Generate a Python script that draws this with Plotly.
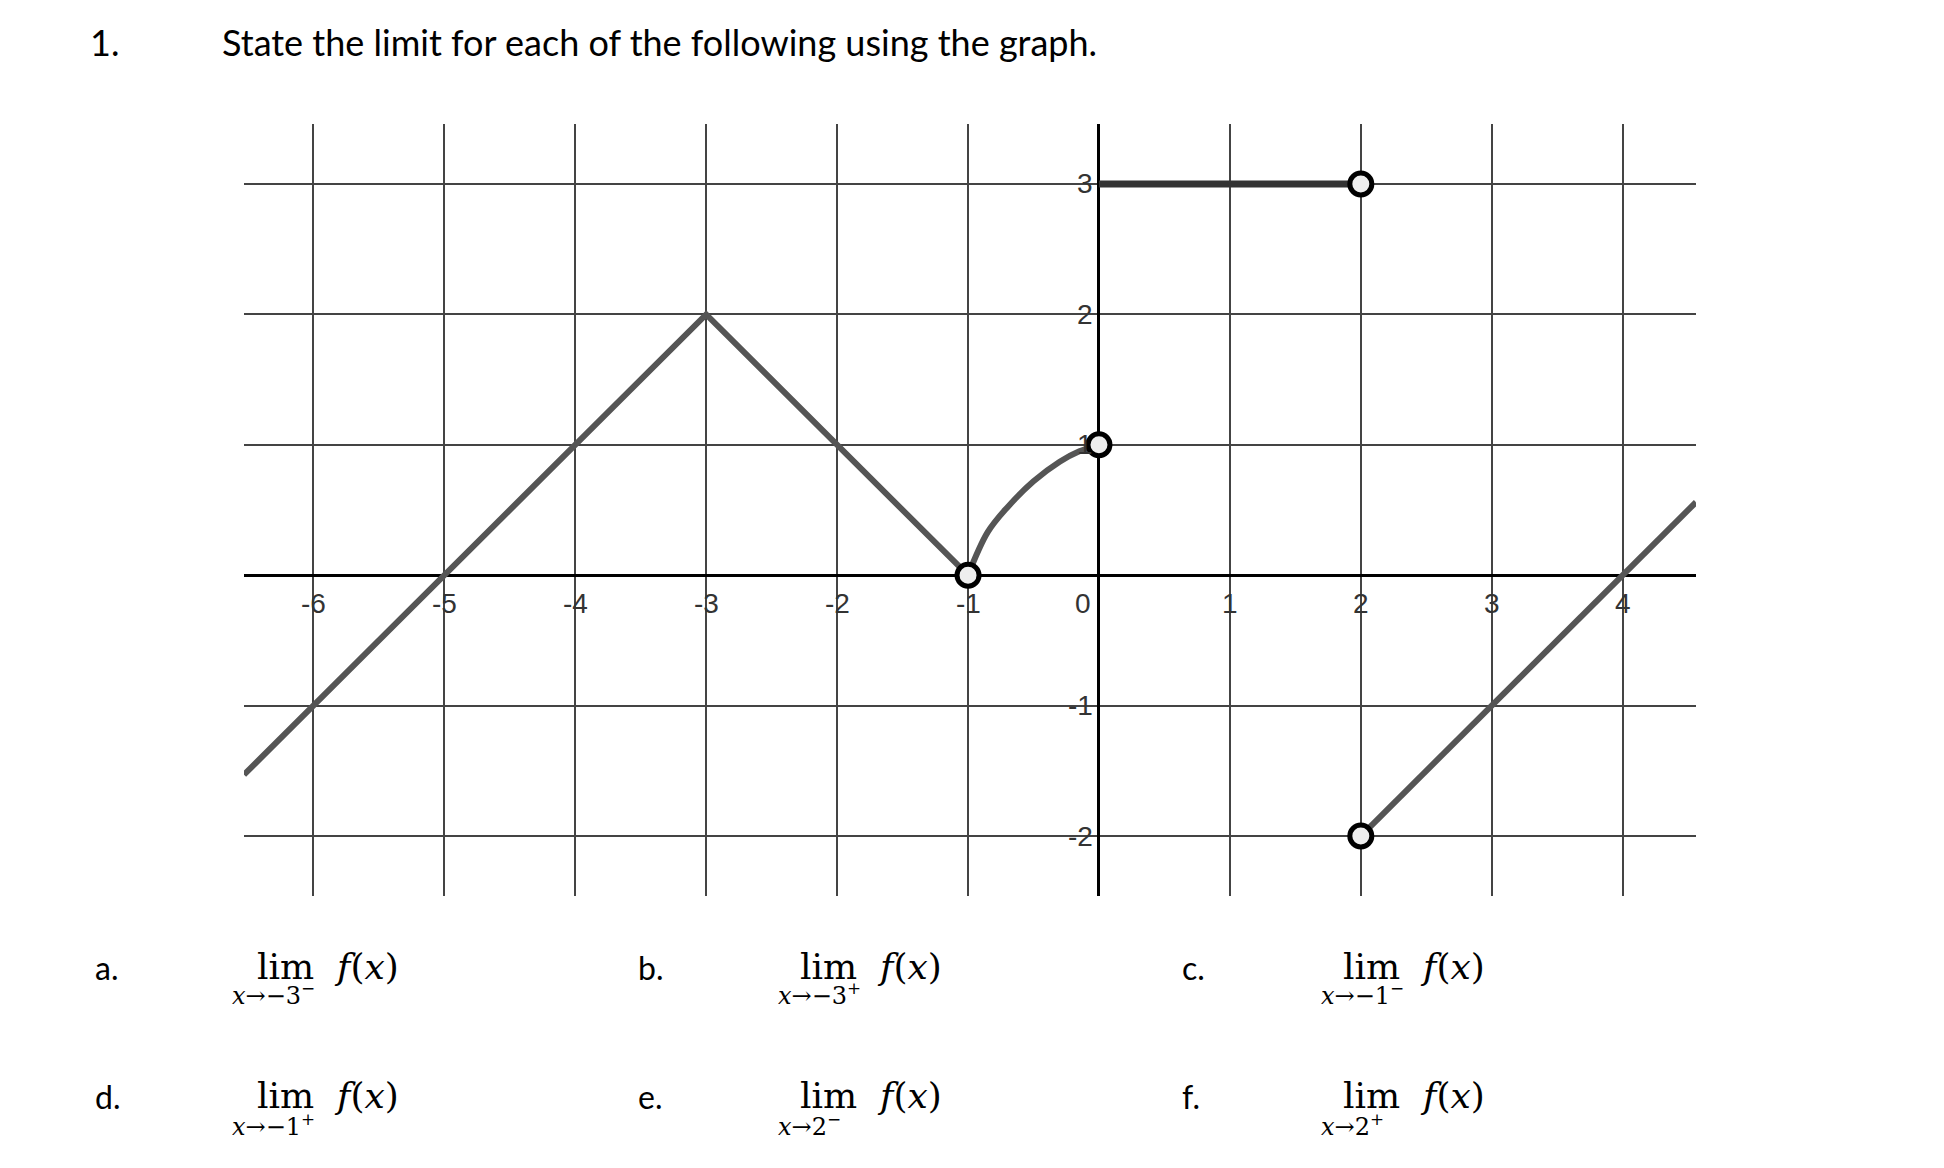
import plotly.graph_objects as go

# pieces of f(x)
left_x = [-6.53, -3, -1]
left_y = [-1.53, 2, 0]
curve_x = [-1, -0.85, -0.7, -0.5, -0.3, -0.15, 0]
curve_y = [0, 0.33, 0.52, 0.72, 0.87, 0.95, 1]
top_x = [0, 2]
top_y = [3, 3]
right_x = [2, 4.56]
right_y = [-2, 0.56]
open_x = [-1, 0, 2, 2]
open_y = [0, 1, 3, -2]

x_ticks = [-6, -5, -4, -3, -2, -1, 1, 2, 3, 4]
y_ticks = [3, 2, 1, -1, -2]

items = [
    ("a.", "-3", "\u2212"), ("b.", "-3", "+"), ("c.", "-1", "\u2212"),
    ("d.", "-1", "+"), ("e.", "2", "\u2212"), ("f.", "2", "+"),
]

fig = go.Figure()
line = dict(color="#555555", width=6)
fig.add_trace(go.Scatter(x=left_x, y=left_y, mode="lines", line=line))
fig.add_trace(go.Scatter(x=curve_x, y=curve_y, mode="lines", line=dict(color="#555555", width=6, shape="spline")))
fig.add_trace(go.Scatter(x=top_x, y=top_y, mode="lines", line=dict(color="#333333", width=7)))
fig.add_trace(go.Scatter(x=right_x, y=right_y, mode="lines", line=line))
fig.add_trace(go.Scatter(x=open_x, y=open_y, mode="markers",
                         marker=dict(size=22, color="#eeeeee", line=dict(color="black", width=5))))

W, H = 1944, 1168
L, R, T, B = 236, 256, 116, 280
pw, ph = W - L - R, H - T - B


def px(x):
    return (x - L) / pw


def py(y):
    return (H - B - y) / ph


tick_font = dict(size=28, color="#333", family="Liberation Sans")
ann = []
for t in x_ticks:
    ann.append(dict(x=t, y=-0.22, xref="x", yref="y", text=str(t), showarrow=False, font=tick_font))
ann.append(dict(x=-0.12, y=-0.22, xref="x", yref="y", text="0", showarrow=False, font=tick_font))
for t in y_ticks:
    ann.append(dict(x=-0.03, y=t, xref="x", yref="y", text=str(t), showarrow=False, xanchor="right",
                    font=tick_font))

ann.append(dict(x=px(80), y=py(10), xref="paper", yref="paper", text="1.", showarrow=False,
                xanchor="left", font=dict(size=36, family="Lato", color="black")))
ann.append(dict(x=px(212), y=py(10), xref="paper", yref="paper",
                text="State the limit for each of the following using the graph.", showarrow=False,
                xanchor="left", font=dict(size=36, family="Lato", color="black")))

col_letter = [85, 628, 1172]
col_lim = [247, 790, 1333]
col_sub = [222, 768, 1311]
rows = [(981, 1004), (1110, 1135)]
for i, (letter, a, side) in enumerate(items):
    r, c = divmod(i, 3)
    ann.append(dict(x=px(col_letter[c]), y=py(rows[r][0]), xref="paper", yref="paper", text=letter,
                    showarrow=False, xanchor="left", font=dict(size=32, family="Lato", color="black")))
    ann.append(dict(x=px(col_lim[c]), y=py(rows[r][0]), xref="paper", yref="paper",
                    text="lim  <i>f</i>(<i>x</i>)", showarrow=False, xanchor="left",
                    font=dict(size=36, family="DejaVu Serif", color="black")))
    ann.append(dict(x=px(col_sub[c]), y=py(rows[r][1]), xref="paper", yref="paper",
                    text="<i>x</i>\u2192" + a.replace("-", "\u2212") + "<sup>" + side + "</sup>",
                    showarrow=False, xanchor="left",
                    font=dict(size=24, family="DejaVu Serif", color="black")))

fig.update_layout(
    width=W, height=H, margin=dict(l=L, r=R, t=T, b=B),
    plot_bgcolor="white", paper_bgcolor="white", showlegend=False,
    annotations=ann,
)
fig.update_xaxes(range=[-6.53, 4.56], dtick=1, tick0=0, showgrid=True, gridcolor="#444", gridwidth=1.5,
                 zeroline=True, zerolinecolor="black", zerolinewidth=3, showticklabels=False, showline=False)
fig.update_yaxes(range=[-2.46, 3.46], dtick=1, tick0=0, showgrid=True, gridcolor="#444", gridwidth=1.5,
                 zeroline=True, zerolinecolor="black", zerolinewidth=3, showticklabels=False, showline=False)

fig.write_html("out.html")
